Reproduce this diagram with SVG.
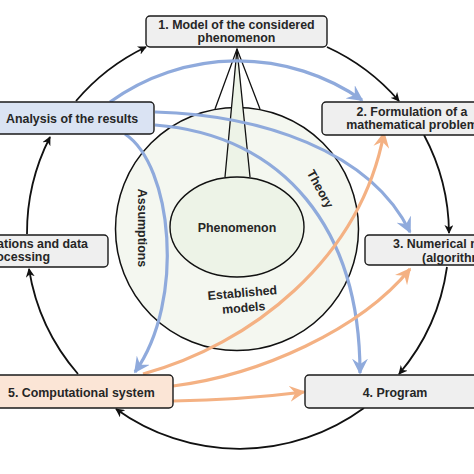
<svg xmlns="http://www.w3.org/2000/svg" width="474" height="474" viewBox="0 0 474 474">
<defs>
<style>
.box{stroke:#1a1a1a;stroke-width:1.4}
.grey{fill:#efefef}
.blue{fill:#dae3f3}
.peach{fill:#fbe5d6}
.t{font-family:"Liberation Sans",Arial,sans-serif;font-weight:bold;font-size:12.4px;fill:#262626}
.c{text-anchor:middle}
.blk{fill:none;stroke:#111;stroke-width:1.8}
.bl{fill:none;stroke:#8faadc;stroke-width:3.2}
.or{fill:none;stroke:#f4b183;stroke-width:3.2}
.ln{fill:none;stroke:#111;stroke-width:1.3}
</style>
<marker id="ak" viewBox="0 0 10 10" refX="9" refY="5" markerWidth="9" markerHeight="9" markerUnits="userSpaceOnUse" orient="auto"><path d="M0,0 L10,5 L0,10 L3,5 z" fill="#111"/></marker>
<marker id="ab" viewBox="0 0 10 10" refX="9" refY="5" markerWidth="16" markerHeight="16" markerUnits="userSpaceOnUse" orient="auto"><path d="M0,0 L10,5 L0,10 L3.5,5 z" fill="#8faadc"/></marker>
<marker id="ao" viewBox="0 0 10 10" refX="9" refY="5" markerWidth="16" markerHeight="16" markerUnits="userSpaceOnUse" orient="auto"><path d="M0,0 L10,5 L0,10 L3.5,5 z" fill="#f4b183"/></marker>
</defs>
<rect width="474" height="474" fill="#ffffff"/>

<g id="core">
<circle cx="237" cy="229" r="121.5" fill="#f4f7f0" stroke="#111" stroke-width="1.5"/>
<path d="M225,177 L237,49 L250,177 Z" fill="#edf3e7"/>
<path class="ln" d="M215,109 L237,49 L260,109"/>
<path class="ln" d="M225,177 L237,49 L250,177"/>
<text class="t" transform="translate(142,228) rotate(90)" text-anchor="middle" dy="4" font-size="12.2">Assumptions</text>
<text class="t" transform="translate(320,189) rotate(61)" text-anchor="middle" dy="4">Theory</text>
<g transform="rotate(-5 243 300)">
<text class="t c" x="243" y="297">Established</text>
<text class="t c" x="243" y="312">models</text>
</g>
</g>

<g id="connectors">
<path class="blk" marker-end="url(#ak)" d="M76,101 A211,211 0 0 1 146,47"/>
<path class="blk" marker-end="url(#ak)" d="M327,47 A211,211 0 0 1 399,101"/>
<path class="blk" marker-end="url(#ak)" d="M424,135 A211,211 0 0 1 449,233"/>
<path class="blk" marker-end="url(#ak)" d="M447,267 A211,211 0 0 1 399,374"/>
<path class="blk" marker-end="url(#ak)" d="M364,408 A211,211 0 0 1 116,409"/>
<path class="blk" marker-end="url(#ak)" d="M78,374 A211,211 0 0 1 29,269"/>
<path class="blk" marker-end="url(#ak)" d="M27,234 A211,211 0 0 1 50,137"/>

<path class="bl" marker-end="url(#ab)" d="M110,102 A218,218 0 0 1 362,100"/>
<path class="bl" marker-end="url(#ab)" d="M155,112 C260,115 370,150 410,232"/>
<path class="bl" marker-end="url(#ab)" d="M155,125 C285,135 360,230 360,373"/>
<path class="bl" marker-end="url(#ab)" d="M125,134 C172,165 186,300 135,372"/>

<path class="or" marker-end="url(#ao)" d="M143,374 C250,345 360,260 384,133"/>
<path class="or" marker-end="url(#ao)" d="M173,386 C260,375 360,330 410,269"/>
<path class="or" marker-end="url(#ao)" d="M173,401 Q240,400 304,392"/>
</g>

<g id="phenomenon">
<ellipse cx="237" cy="227" rx="67" ry="50" fill="#edf3e7" stroke="#111" stroke-width="1.4"/>
<text class="t c" x="237" y="232" fill="#333">Phenomenon</text>
</g>

<g id="box1">
<rect class="box grey" x="146" y="16" width="181" height="31" rx="4"/>
<text class="t c" x="236.5" y="28.5" font-size="12.6">1. Model of the considered</text>
<text class="t c" x="236.5" y="42" font-size="12.6">phenomenon</text>
</g>

<g id="box2">
<rect class="box grey" x="322" y="102" width="170" height="33" rx="4"/>
<text class="t c" x="412" y="115.5">2. Formulation of a</text>
<text class="t c" x="412" y="129">mathematical problem</text>
</g>

<g id="box3">
<rect class="box grey" x="365" y="235" width="130" height="30" rx="4"/>
<text class="t" x="393" y="248">3. Numerical method</text>
<text class="t" x="422" y="261.5">(algorithm)</text>
</g>

<g id="box4">
<rect class="box grey" x="305" y="375" width="180" height="33" rx="4"/>
<text class="t c" x="395" y="396.5">4. Program</text>
</g>

<g id="box5">
<rect class="box peach" x="-8" y="375" width="181" height="33" rx="4"/>
<text class="t" x="8" y="396.5">5. Computational system</text>
</g>

<g id="box6">
<rect class="box grey" x="-10" y="235" width="118" height="32" rx="4"/>
<text class="t" x="88" y="248" text-anchor="end">ations and data</text>
<text class="t" x="50" y="261" text-anchor="end">ocessing</text>
</g>

<g id="analysis">
<rect class="box blue" x="-8" y="102" width="162" height="32" rx="4"/>
<text class="t" x="6" y="123" font-size="12.1">Analysis of the results</text>
</g>
</svg>
